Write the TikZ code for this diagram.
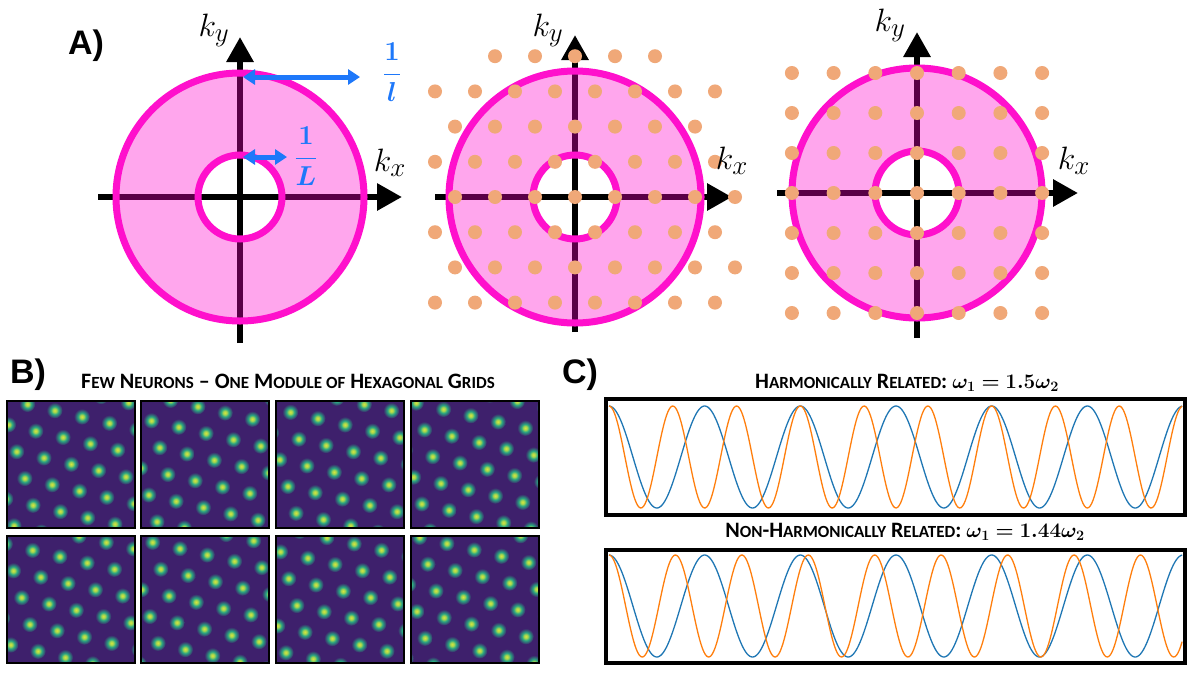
\documentclass[tikz,border=0pt]{standalone}
\usepackage{fontspec}
\usepackage{bm}
\setmainfont{Carlito}
\newfontfamily\arialb{Liberation Sans}[BoldFont={Liberation Sans Bold}]
\usetikzlibrary{arrows.meta}
\definecolor{ringmag}{RGB}{255,16,204}
\definecolor{ringfill}{RGB}{255,0,205}
\definecolor{dotor}{RGB}{240,168,120}
\definecolor{kblue}{RGB}{30,120,250}
\definecolor{vbg}{RGB}{62,32,108}
\definecolor{vgr}{RGB}{40,170,130}
\definecolor{vye}{RGB}{215,230,60}
\definecolor{mblue}{RGB}{31,119,180}
\definecolor{morange}{RGB}{255,127,14}
\pgfdeclareradialshading{gdot}{\pgfpoint{0bp}{0bp}}{color(0bp)=(vye); color(6bp)=(vye!70!vgr); color(12bp)=(vgr); color(25bp)=(vbg); color(50bp)=(vbg)}
\newcommand\SCx[1]{{\fontsize{17}{17}\selectfont #1}}
\tikzset{
  axis/.style={line width=6pt, -{Triangle[length=25pt,width=26pt]}},
  ring/.style={draw=ringmag, line width=7pt},
  odot/.style={fill=dotor},
  barr/.style={kblue, line width=5pt, {Triangle[length=12pt,width=15pt]}-{Triangle[length=12pt,width=15pt]}},
  klab/.style={font=\Huge, scale=1.3},
  blab/.style={text=kblue, font=\Huge, scale=1.1, inner sep=0pt},
  panel/.style={font=\arialb\bfseries\fontsize{34}{34}\selectfont},
  ttl/.style={font=\bfseries\fontsize{22}{22}\selectfont},
  frame/.style={draw=black, line width=2pt},
  cframe/.style={draw=black, line width=4pt},
  wave/.style={line width=1.3pt}
}
\newcommand\donut[3]{%
  \fill[ringfill, opacity=0.35, even odd rule] (#1,#2) circle[radius=#3pt] (#1,#2) circle[radius=42pt];
  \draw[ring] (#1,#2) circle[radius=#3pt];
  \draw[ring] (#1,#2) circle[radius=42pt];}
\begin{document}
\begin{tikzpicture}[x=1pt,y=-1pt]
\useasboundingbox[fill=white] (0,0) rectangle (1190,672);
% ---------- Panel A ----------
\node[panel] (pA) at (86,46) {A)};
% A1
\coordinate (a1l) at (98,197); \coordinate (a1r) at (402,197);
\coordinate (a1b) at (240,343); \coordinate (a1t) at (240,37);
\draw[axis] (a1l) -- (a1r);
\draw[axis] (a1b) -- (a1t);
\donut{240}{197}{124}
\coordinate (o1) at (243,77); \coordinate (o2) at (360,77);
\draw[barr] (o1) -- (o2);
\coordinate (i1) at (243,157); \coordinate (i2) at (287,157);
\draw[barr] (i1) -- (i2);
\node[klab] (ky1) at (214,30) {$k_y$};
\node[klab] (kx1) at (390,163) {$k_x$};
\node[blab] (fl) at (392,72) {$\displaystyle\bm{\frac{1}{l}}$};
\node[blab] (fL) at (306,156) {$\displaystyle\bm{\frac{1}{L}}$};
% A2
\coordinate (a2l) at (435,197); \coordinate (a2r) at (732,197);
\coordinate (a2b) at (575,332); \coordinate (a2t) at (575,35);
\draw[axis] (a2l) -- (a2r);
\draw[axis] (a2b) -- (a2t);
\donut{575}{197}{126}
\foreach \j/\lo/\hi in {-4/-2/2,-3/-4/3,-2/-3/3,-1/-4/3,0/-3/4,1/-4/3,2/-3/4,3/-4/3}{
  \pgfmathsetmacro\off{(mod(abs(\j),2)==1) ? 20 : 0}
  \foreach \i in {\lo,...,\hi}{
    \fill[odot] ({575+\off+40*\i},{197+35.2*\j}) circle[radius=7pt];
  }}
\node[klab] (ky2) at (548,30) {$k_y$};
\node[klab] (kx2) at (732,161) {$k_x$};
% A3
\coordinate (a3l) at (777,193); \coordinate (a3r) at (1078,193);
\coordinate (a3b) at (917,338); \coordinate (a3t) at (917,32);
\draw[axis] (a3l) -- (a3r);
\draw[axis] (a3b) -- (a3t);
\donut{917}{193}{125}
\foreach \j in {-3,...,3}{
  \foreach \i in {-3,...,3}{
    \fill[odot] ({917+41.7*\i},{193+40*\j}) circle[radius=7pt];
  }}
\node[klab] (ky3) at (890,25) {$k_y$};
\node[klab] (kx3) at (1074,161) {$k_x$};
% ---------- Panel B ----------
\node[panel] (pB) at (28,375) {B)};
\node[ttl] (tB) at (288,381) {F\SCx{EW} N\SCx{EURONS} -- O\SCx{NE} M\SCx{ODULE OF} H\SCx{EXAGONAL} G\SCx{RIDS}};
\foreach \x/\y/\ox/\oy in {7/401/0/0, 141/401/9/-4, 276/401/-6/8, 411/401/12/5, 7/536/5/11, 141/536/-9/3, 276/536/3/-8, 411/536/-12/-2}{
  \begin{scope}
    \clip (\x,\y) rectangle ++(128,127);
    \fill[vbg] (\x,\y) rectangle ++(128,127);
    \foreach \i in {-5,...,5}{
      \foreach \j in {-5,...,5}{
        \shade[shading=gdot] ({\x+64+\ox+27.3*\i-19.1*\j},{\y+63+\oy+6.3*\i+20.5*\j}) circle[radius=8pt];
      }}
  \end{scope}
  \draw[frame] (\x,\y) rectangle ++(128,127);
}
% ---------- Panel C ----------
\node[panel] (pC) at (580,375) {C)};
\node[ttl] (tC1) at (907,383) {H\SCx{ARMONICALLY} R\SCx{ELATED}: $\bm{\omega_1=1.5\omega_2}$};
\node[ttl] (tC2) at (905,532) {N\SCx{ON}-H\SCx{ARMONICALLY} R\SCx{ELATED}: $\bm{\omega_1=1.44\omega_2}$};
\begin{scope}
  \clip (606,399) rectangle (1185,515);
  \draw[wave, mblue] plot[domain=0:1, samples=400] ({609+574*\x},{457-51*cos(6*360*\x)});
  \draw[wave, morange] plot[domain=0:1, samples=400] ({609+574*\x},{457-51*cos(9*360*\x)});
\end{scope}
\draw[cframe] (606,399) rectangle (1185,515);
\begin{scope}
  \clip (606,550) rectangle (1185,663);
  \draw[wave, mblue] plot[domain=0:1, samples=400] ({609+574*\x},{606-51*cos(6*360*\x)});
  \draw[wave, morange] plot[domain=0:1, samples=400] ({609+574*\x},{606-51*cos(8.64*360*\x)});
\end{scope}
\draw[cframe] (606,550) rectangle (1185,663);
\end{tikzpicture}
\end{document}
